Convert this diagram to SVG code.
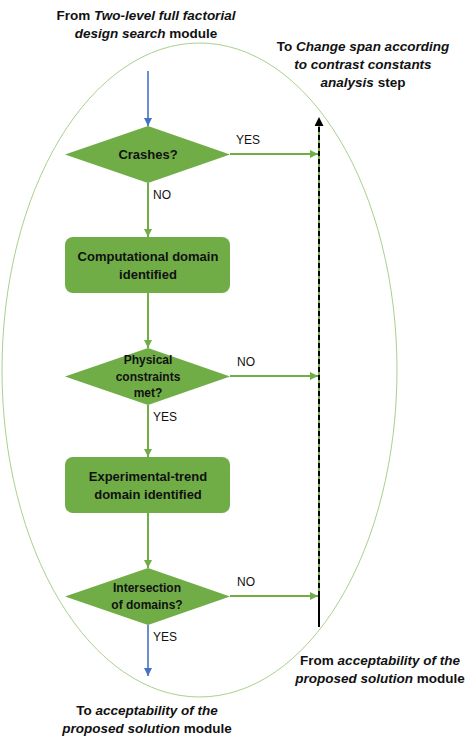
<svg xmlns="http://www.w3.org/2000/svg" width="474" height="746" viewBox="0 0 474 746">
<defs>
<marker id="ag" viewBox="0 0 10 10" refX="10" refY="5" markerWidth="8" markerHeight="8" markerUnits="userSpaceOnUse" orient="auto"><path d="M0,0 L10,5 L0,10 z" fill="#70AD47"/></marker>
<marker id="ab" viewBox="0 0 10 10" refX="10" refY="5" markerWidth="8" markerHeight="8" markerUnits="userSpaceOnUse" orient="auto"><path d="M0,0 L10,5 L0,10 z" fill="#4472C4"/></marker>
<marker id="ak" viewBox="0 0 10 10" refX="10" refY="5" markerWidth="9" markerHeight="9" markerUnits="userSpaceOnUse" orient="auto"><path d="M0,0 L10,5 L0,10 z" fill="#000"/></marker>
</defs>
<style>
.shape{fill:#70AD47;}
.t{font-family:"Liberation Sans",Arial,sans-serif;font-weight:bold;font-size:13px;fill:#111;text-anchor:middle;}
.t12{font-size:12px;}
.ext{font-family:"Liberation Sans",Arial,sans-serif;font-weight:bold;font-size:13.5px;fill:#111;text-anchor:middle;}
.lbl{font-family:"Liberation Sans",Arial,sans-serif;font-size:12px;fill:#111;}
.g{stroke:#70AD47;stroke-width:2;fill:none;}
.b{stroke:#4472C4;stroke-width:1.6;fill:none;}
</style>
<ellipse id="boundary" cx="199.5" cy="370" rx="197.5" ry="327" fill="none" stroke="#A9D18E" stroke-width="1"/>
<g id="connectors">
<line class="b" x1="148" y1="71" x2="148" y2="126" marker-end="url(#ab)"/>
<line class="g" x1="148" y1="183" x2="148" y2="237" marker-end="url(#ag)"/>
<line class="g" x1="148" y1="293" x2="148" y2="348" marker-end="url(#ag)"/>
<line class="g" x1="148" y1="405" x2="148" y2="457" marker-end="url(#ag)"/>
<line class="g" x1="148" y1="513" x2="148" y2="568" marker-end="url(#ag)"/>
<line class="b" x1="148" y1="625" x2="148" y2="676" marker-end="url(#ab)"/>
<line class="g" x1="230" y1="154" x2="318" y2="154" marker-end="url(#ag)"/>
<line class="g" x1="230" y1="376" x2="318" y2="376" marker-end="url(#ag)"/>
<line class="g" x1="230" y1="596" x2="318" y2="596" marker-end="url(#ag)"/>
<line x1="319" y1="596" x2="319" y2="125" stroke="#70AD47" stroke-width="2"/>
<line x1="319" y1="596" x2="319" y2="117" stroke="#000" stroke-width="2" stroke-dasharray="5,3" marker-end="url(#ak)"/>
<line x1="319" y1="596" x2="319" y2="627" stroke="#000" stroke-width="2"/>
<text class="lbl" x="236" y="144">YES</text>
<text class="lbl" x="153" y="199">NO</text>
<text class="lbl" x="237" y="366">NO</text>
<text class="lbl" x="153" y="421">YES</text>
<text class="lbl" x="237" y="586">NO</text>
<text class="lbl" x="153" y="641">YES</text>
</g>
<g id="source">
<text class="ext" x="146" y="20">From <tspan font-style="italic">Two-level full factorial</tspan></text>
<text class="ext" x="146" y="38"><tspan font-style="italic">design search</tspan> module</text>
</g>
<g id="target-change-span">
<text class="ext" x="363" y="51">To <tspan font-style="italic">Change span according</tspan></text>
<text class="ext" x="363" y="69"><tspan font-style="italic">to contrast constants</tspan></text>
<text class="ext" x="363" y="87"><tspan font-style="italic">analysis</tspan> step</text>
</g>
<g id="crashes">
<polygon class="shape" points="148,126 230,154.5 148,183 65,154.5"/>
<text class="t" x="148" y="159">Crashes?</text>
</g>
<g id="computational">
<rect class="shape" x="65" y="237" width="165" height="56" rx="8"/>
<text class="t" x="148" y="261">Computational domain</text>
<text class="t" x="148" y="279">identified</text>
</g>
<g id="physical">
<polygon class="shape" points="148,348 230,376.5 148,405 65,376.5"/>
<text class="t t12" x="148" y="364">Physical</text>
<text class="t t12" x="148" y="381">constraints</text>
<text class="t t12" x="148" y="397">met?</text>
</g>
<g id="experimental">
<rect class="shape" x="65" y="457" width="165" height="56" rx="8"/>
<text class="t" x="148" y="481">Experimental-trend</text>
<text class="t" x="148" y="499">domain identified</text>
</g>
<g id="intersection">
<polygon class="shape" points="148,568 230,596.5 148,625 65,596.5"/>
<text class="t t12" x="147" y="592">Intersection</text>
<text class="t t12" x="147" y="609">of domains?</text>
</g>
<g id="from-acceptability">
<text class="ext" x="380" y="665">From <tspan font-style="italic">acceptability of the</tspan></text>
<text class="ext" x="380" y="683"><tspan font-style="italic">proposed solution</tspan> module</text>
</g>
<g id="to-acceptability">
<text class="ext" x="147" y="715">To <tspan font-style="italic">acceptability of the</tspan></text>
<text class="ext" x="147" y="733"><tspan font-style="italic">proposed solution</tspan> module</text>
</g>
</svg>
